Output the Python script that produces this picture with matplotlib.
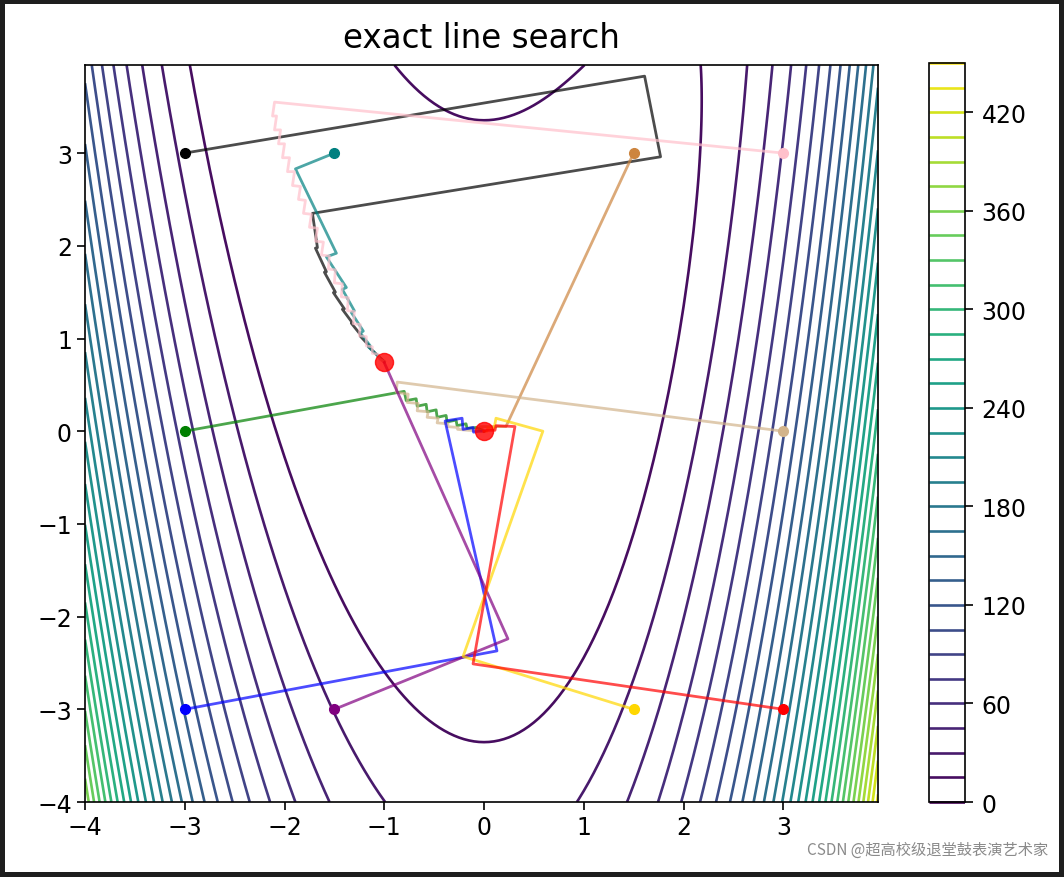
import numpy as np
import matplotlib
matplotlib.use("Agg")
import matplotlib.pyplot as plt

# objective: f = c4*x^4 + c3*x^3 + c2*x^2 + cxy*x^2*y + cy*y^2
c4, c3, c2, cxy, cy = 1.0, 2 / 3, 0.5, -2.0, 4 / 3
grid_step = 0.05
levels = np.arange(0, 451, 15)
cbar_ticks = [0, 60, 120, 180, 240, 300, 360, 420]

# stationary points marked in red
minima_x = [0.0, -1.0]
minima_y = [0.0, 0.75]

# steepest descent paths
colors = ['black', 'teal', 'peru', 'pink', 'green', 'tan', 'blue', 'purple', 'gold', 'red']
paths = [
    [(-3, 3), (1.61, 3.83), (1.77, 2.96), (-1.72, 2.35), (-1.67, 1.98), (-1.69, 1.975),
     (-1.58, 1.72), (-1.60, 1.715), (-1.49, 1.50), (-1.51, 1.495), (-1.40, 1.32), (-1.42, 1.315),
     (-1.32, 1.17), (-1.33, 1.165), (-1.23, 1.03), (-1.24, 1.025), (-1.15, 0.92), (-1.16, 0.915),
     (-1.07, 0.82), (-1.0, 0.75)],
    [(-1.5, 3), (-1.89, 2.83), (-1.48, 1.92), (-1.58, 1.88), (-1.38, 1.55), (-1.42, 1.53),
     (-1.30, 1.30), (-1.33, 1.28), (-1.21, 1.08), (-1.24, 1.06), (-1.14, 0.92), (-1.16, 0.91),
     (-1.07, 0.82), (-1.03, 0.77), (-1.0, 0.75)],
    [(1.5, 3), (0.22, 0.05), (-0.04, 0.05), (0.0, 0.0)],
    [(3, 3), (-2.10, 3.55), (-2.12, 3.40), (-2.08, 3.40), (-2.10, 3.25), (-2.04, 3.25),
     (-2.06, 3.10), (-2.00, 3.10), (-2.02, 2.95), (-1.95, 2.95), (-1.97, 2.80), (-1.90, 2.80),
     (-1.92, 2.65), (-1.84, 2.64), (-1.86, 2.50), (-1.79, 2.49), (-1.81, 2.35), (-1.73, 2.34),
     (-1.75, 2.20), (-1.67, 2.19), (-1.69, 2.05), (-1.61, 2.04), (-1.63, 1.90), (-1.55, 1.89),
     (-1.56, 1.75), (-1.49, 1.74), (-1.50, 1.60), (-1.42, 1.59), (-1.43, 1.45), (-1.36, 1.44),
     (-1.37, 1.30), (-1.30, 1.29), (-1.31, 1.16), (-1.24, 1.15), (-1.25, 1.03), (-1.18, 1.02),
     (-1.18, 0.92), (-1.12, 0.91), (-1.12, 0.84), (-1.06, 0.83), (-1.05, 0.78), (-1.0, 0.75)],
    [(-3, 0), (-0.80, 0.43), (-0.78, 0.33), (-0.68, 0.35), (-0.67, 0.27), (-0.58, 0.29),
     (-0.57, 0.21), (-0.48, 0.23), (-0.47, 0.15), (-0.38, 0.17), (-0.37, 0.10), (-0.28, 0.12),
     (-0.27, 0.06), (-0.18, 0.08), (-0.17, 0.03), (-0.08, 0.04), (0.0, 0.0)],
    [(3, 0), (-0.87, 0.53), (-0.88, 0.42), (-0.76, 0.40), (-0.77, 0.31), (-0.66, 0.30),
     (-0.67, 0.22), (-0.56, 0.21), (-0.57, 0.15), (-0.46, 0.14), (-0.47, 0.09), (-0.36, 0.08),
     (-0.37, 0.05), (-0.26, 0.04), (-0.265, 0.02), (-0.16, 0.01), (0.0, 0.0)],
    [(-3, -3), (0.13, -2.37), (-0.39, 0.11), (-0.22, 0.14), (-0.21, 0.02), (-0.11, 0.04),
     (-0.105, -0.01), (-0.05, 0.0), (0.0, 0.0)],
    [(-1.5, -3), (0.24, -2.24), (-1.0, 0.74)],
    [(1.5, -3), (-0.21, -2.43), (0.59, 0.0), (0.12, 0.14), (0.10, 0.02), (0.04, 0.04),
     (0.03, 0.0), (0.0, 0.0)],
    [(3, -3), (-0.11, -2.51), (0.31, 0.05), (0.12, 0.06), (0.11, 0.01), (0.03, 0.01), (0.0, 0.0)],
]

plt.rcParams['font.size'] = 17
plt.rcParams['axes.linewidth'] = 1.2
plt.rcParams['xtick.major.size'] = 6
plt.rcParams['ytick.major.size'] = 6
plt.rcParams['xtick.major.width'] = 1.2
plt.rcParams['ytick.major.width'] = 1.2

fig = plt.figure(figsize=(10.64, 8.78), dpi=100)
fig.patch.set_edgecolor('#1e1e1e')
fig.patch.set_linewidth(7)
ax = fig.add_axes([0.0799, 0.0854, 0.7453, 0.8394])
cax = fig.add_axes([0.8731, 0.0854, 0.0338, 0.8417])

xs = np.arange(-4, 4, grid_step)
ys = np.arange(-4, 4, grid_step)
X, Y = np.meshgrid(xs, ys)
Z = c4 * X**4 + c3 * X**3 + c2 * X**2 + cxy * X**2 * Y + cy * Y**2

cs = ax.contour(X, Y, Z, levels=levels, cmap='viridis', linewidths=1.9)

for pts, c in zip(paths, colors):
    p = np.array(pts)
    ax.plot(p[:, 0], p[:, 1], color=c, alpha=0.7, lw=2.0)
    ax.plot(p[0, 0], p[0, 1], 'o', color=c, ms=7)

ax.plot(minima_x, minima_y, 'o', color='red', ms=13, alpha=0.8)

ax.set_title('exact line search', fontsize=23.5, pad=13)
ax.set_xticks(range(-4, 4))
ax.set_yticks(range(-4, 4))

cb = fig.colorbar(cs, cax=cax)
cb.set_ticks(cbar_ticks)
cb.ax.tick_params(pad=6)

fig.text(0.985, 0.022, 'CSDN @超高校级退堂鼓表演艺术家', ha='right', va='bottom',
         fontsize=11, color='#8a8a8a', family=['Noto Sans CJK SC', 'DejaVu Sans'])

fig.savefig('out.png', dpi=100)
